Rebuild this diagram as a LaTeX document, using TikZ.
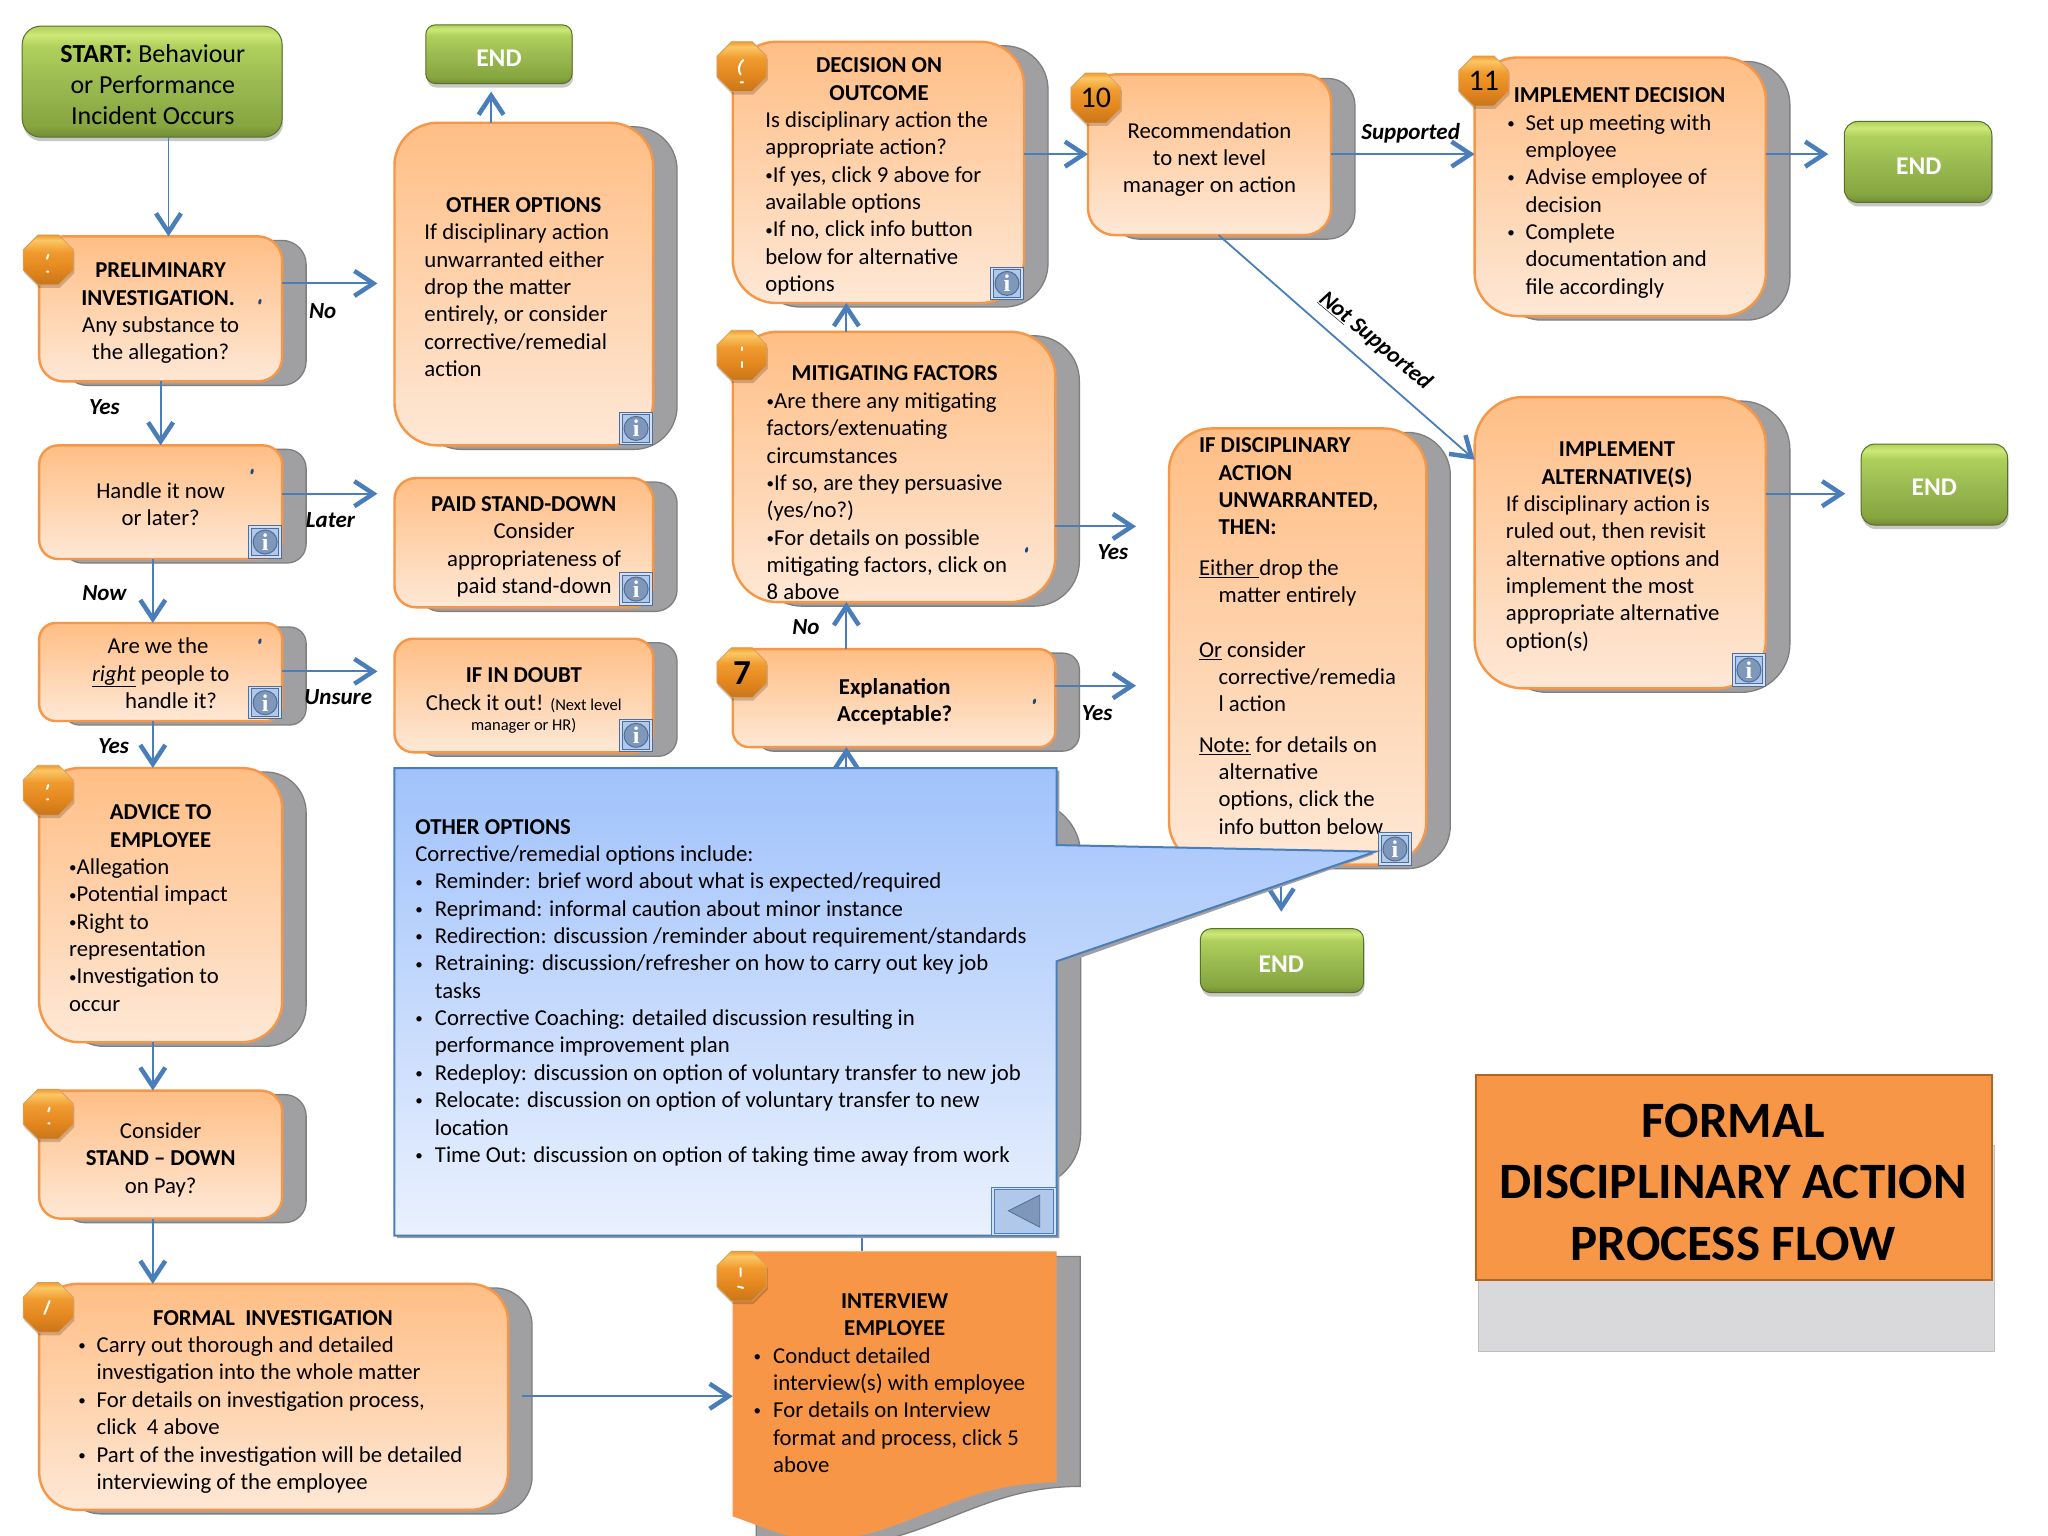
\documentclass[tikz,border=0pt]{standalone}
\usepackage{fontspec}
\setmainfont{Carlito}
\newfontfamily\serifi{Liberation Serif}
\usetikzlibrary{arrows.meta,shapes.geometric,shadows}
\definecolor{flowblue}{HTML}{4A7EBB}
\definecolor{orangeedge}{HTML}{F79646}
\definecolor{orangetop}{HTML}{FFBE85}
\definecolor{orangebot}{HTML}{FEE8D6}
\definecolor{shadowfill}{HTML}{A0A0A2}
\definecolor{shadowline}{HTML}{7F7F7F}
\definecolor{ga}{HTML}{6F8C33}
\definecolor{gb}{HTML}{86A53F}
\definecolor{gc}{HTML}{9BBB52}
\definecolor{gd}{HTML}{B0D05C}
\definecolor{ge}{HTML}{CDE878}
\definecolor{ba}{HTML}{C8751A}
\definecolor{bb}{HTML}{E2861E}
\definecolor{bc}{HTML}{F09A2E}
\definecolor{bd}{HTML}{FBC765}
\definecolor{btnfill}{HTML}{B0C8EA}
\definecolor{btninner}{HTML}{D3E0F2}
\definecolor{btnglyph}{HTML}{7F97B8}
\definecolor{btnline}{HTML}{4F6E9E}
\definecolor{callouttop}{HTML}{A0C2FB}
\definecolor{calloutbot}{HTML}{EAF1FE}
\definecolor{dotblue}{HTML}{1F497D}
\definecolor{titleedge}{HTML}{B5651D}
\definecolor{titleshadow}{HTML}{D9D9DC}
\pgfdeclareverticalshading{greenb}{100bp}{color(0bp)=(ga);color(25bp)=(ga);color(30bp)=(gb);color(50bp)=(gc);color(66bp)=(gd);color(71bp)=(ge);color(75bp)=(gd);color(100bp)=(gd)}
\pgfdeclareverticalshading{badgeb}{100bp}{color(0bp)=(ba);color(25bp)=(ba);color(40bp)=(bb);color(58bp)=(bc);color(70bp)=(bd);color(75bp)=(bc);color(100bp)=(bc)}
\tikzset{
  flow/.style={draw=flowblue,line width=1.9pt,-{Straight Barb[length=19pt,width=25pt,line width=4.5pt]}},
  pbox/.style={draw=orangeedge,line width=2.4pt,top color=orangetop,bottom color=orangebot,
    general shadow={fill=shadowfill,draw=shadowline,line width=1.3pt,shadow xshift=24pt,shadow yshift=-4pt}},
  gbtn/.style={shade,shading=greenb,draw=ga!80!black,line width=1pt,
    general shadow={fill=black,opacity=.22,shadow xshift=1pt,shadow yshift=-4pt}},
  plain/.style={},
  lab/.style={inner sep=0,font=\fontsize{23}{27}\selectfont\bfseries\itshape},
  octo/.style={shape=regular polygon,regular polygon sides=8,minimum size=54pt,inner sep=0,shade,shading=badgeb,draw=ba!70!white,line width=.8pt,
    font=\fontsize{30}{32}\selectfont,general shadow={fill=black,opacity=.18,shadow xshift=1pt,shadow yshift=-3pt}},
  infobtn/.style={rectangle,minimum size=30pt,inner sep=0,fill=btnfill,draw=btnline,line width=1pt,double=btninner,double distance=1.4pt},
  infoi/.style={circle,minimum size=24pt,inner sep=0,fill=btnglyph,draw=btnline,line width=1pt,text=white,font=\serifi\fontsize{24}{24}\selectfont\bfseries},
  frag/.style={draw=white,line width=2pt,line cap=round},
}
\def\SC{1.30612}
% optional style, name, x0, y0, x1, y1, centre height of first line, body
\newcommand{\tbox}[8][plain]{%
  \pgfmathsetmacro{\bw}{(#5-#3)*\SC}%
  \pgfmathsetmacro{\bh}{(#6-#4)*\SC}%
  \pgfmathsetmacro{\bdy}{(#7-#4)*\SC+8.7-18}%
  \pgfmathsetmacro{\brad}{min(\bw,\bh)/6}%
  \gdef\curxo{#3}%
  \node[inner sep=0,outer sep=0,minimum width=\bw pt,minimum height=\bh pt,rounded corners=\brad pt,#1] (#2) at ({(#3+#5)/2},{(#4+#6)/2})
   {\vbox to \bh pt{\hrule height0pt width\bw pt\kern\bdy pt\fontsize{22.75}{27.35}\selectfont #8\vss}};%
}
\newcommand{\bul}{\raisebox{1.8pt}{\fontsize{15}{15}\selectfont •}}
\newcommand{\ctl}[2]{\pgfmathsetmacro{\lx}{(#1-\curxo)*\SC}\hbox to 0pt{\kern\lx pt\rule{0pt}{18pt}\makebox[0pt][c]{#2}\hss}}
\newcommand{\lft}[2]{\pgfmathsetmacro{\lx}{(#1-\curxo)*\SC}\hbox to 0pt{\kern\lx pt\rule{0pt}{18pt}#2\hss}}
\newcommand{\blt}[3]{\pgfmathsetmacro{\lx}{(#1-\curxo)*\SC}\pgfmathsetmacro{\ly}{(#2-#1)*\SC}\hbox to 0pt{\kern\lx pt\rule{0pt}{18pt}\makebox[0pt][l]{\bul}\kern\ly pt #3\hss}}
\newcommand{\gapline}{\kern13pt}
\newcommand{\stoptxt}{\fontsize{25.5}{28}\selectfont\bfseries\color{white}}
\newcommand{\badge}[4]{\node[octo] (#1) at (#2,#3) {#4};}
\newcommand{\info}[3]{\node[infobtn] (#1) at (#2,#3) {};\node[infoi] (#1i) at (#1.center) {i};}
\newcommand{\bluedot}[2]{\fill[dotblue] (#1,#2) ellipse[x radius=1.2,y radius=2.2,rotate=-15];}
\begin{document}
\begin{tikzpicture}[x=1.30612pt,y=-1.30612pt]
\useasboundingbox[fill=white] (0,0) rectangle (1568,1176);

% hidden step behind the callout
\tbox[pbox]{hiddenbox}{561}{610}{809}{906}{700}{}

% interview document shape
\fill[shadowfill,draw=shadowline,line width=1.3pt] (579,962) -- (827,962) -- (827,1138) .. controls (755,1138) and (720,1175) .. (650,1184) -- (579,1184) -- cycle;
\fill[orangeedge] (561,958) -- (809,958) -- (809,1135) .. controls (735,1135) and (700,1172) .. (640,1179) .. controls (610,1182) and (590,1171) .. (561,1161) -- cycle;

\tbox[gbtn]{start}{17}{20}{216}{105}{41}{\fontsize{26}{31}\selectfont
 \ctl{117}{\textbf{START:} Behaviour}\ctl{117}{or Performance}\ctl{117}{Incident Occurs}}
\tbox[gbtn]{endA}{326}{19}{438}{64}{44}{\stoptxt\ctl{382}{END}}
\tbox[gbtn]{endB}{1412}{93}{1525}{155}{127}{\stoptxt\ctl{1469}{END}}
\tbox[gbtn]{endC}{1425}{340}{1537}{402}{373}{\stoptxt\ctl{1481}{END}}
\tbox[gbtn]{endD}{919}{711}{1044}{760}{738}{\stoptxt\ctl{981}{END}}

\tbox[pbox]{prelim}{30}{181}{216}{292}{206}{\ctl{123}{\textbf{PRELIMINARY}}\ctl{121}{\textbf{INVESTIGATION.}}\ctl{123}{Any substance to}\ctl{123}{the allegation?}}
\tbox[pbox]{handle}{30}{341}{216}{428}{375}{\ctl{123}{Handle it now}\ctl{123}{or later?}}
\tbox[pbox]{arewe}{30}{477}{216}{552}{494}{\ctl{121}{Are we the}\ctl{123}{\underline{\textit{right}} people to}\ctl{131}{handle it?}}
\tbox[pbox]{advice}{30}{588}{216}{798}{621}{\ctl{123}{\textbf{ADVICE TO}}\ctl{123}{\textbf{EMPLOYEE}}\lft{53}{\bul Allegation}\lft{53}{\bul Potential impact}\lft{53}{\bul Right to}\lft{53}{representation}\lft{53}{\bul Investigation to}\lft{53}{occur}}
\tbox[pbox]{consider}{30}{835}{216}{933}{865}{\ctl{123}{Consider}\ctl{123}{\textbf{STAND – DOWN}}\ctl{123}{on Pay?}}
\tbox[pbox]{formal}{30}{983}{389}{1156}{1008}{\ctl{209}{\textbf{FORMAL\ \ INVESTIGATION}}\blt{60}{74}{Carry out thorough and detailed}\lft{74}{investigation into the whole matter}\blt{60}{74}{For details on investigation process,}\lft{74}{click\ \ 4 above}\blt{60}{74}{Part of the investigation will be detailed}\lft{74}{interviewing of the employee}}
\tbox[pbox]{otheropt}{302}{94}{500}{341}{156}{\ctl{401}{\textbf{OTHER OPTIONS}}\lft{325}{If disciplinary action}\lft{325}{unwarranted either}\lft{325}{drop the matter}\lft{325}{entirely, or consider}\lft{325}{corrective/remedial}\lft{325}{action}}
\tbox[pbox]{paid}{302}{366}{500}{465}{385}{\ctl{401}{\textbf{PAID STAND-DOWN}}\ctl{409}{Consider}\ctl{409}{appropriateness of}\ctl{409}{paid stand-down}}
\tbox[pbox]{ifdoubt}{302}{489}{500}{576}{516}{\ctl{401}{\textbf{IF IN DOUBT}}\ctl{401}{Check it out! {\fontsize{16.5}{20}\selectfont (Next level}}\kern-6.5pt\ctl{401}{\fontsize{16.5}{20}\selectfont manager or HR)}}
\tbox[pbox]{decision}{561}{32}{784}{232}{49}{\ctl{673}{\textbf{DECISION ON}}\ctl{673}{\textbf{OUTCOME}}\lft{586}{Is disciplinary action the}\lft{586}{appropriate action?}\lft{586}{\bul If yes, click 9 above for}\lft{586}{available options}\lft{586}{\bul If no, click info button}\lft{586}{below for alternative}\lft{586}{options}}
\tbox[pbox]{mitigating}{561}{254}{808}{461}{285}{\ctl{685}{\textbf{MITIGATING FACTORS}}\lft{587}{\bul Are there any mitigating}\lft{587}{factors/extenuating}\lft{587}{circumstances}\lft{587}{\bul If so, are they persuasive}\lft{587}{(yes/no?)}\lft{587}{\bul For details on possible}\lft{587}{mitigating factors, click on}\lft{587}{8 above}}
\tbox[pbox]{explain}{561}{497}{808}{572}{525}{\ctl{685}{\textbf{Explanation}}\ctl{685}{\textbf{Acceptable?}}}
\tbox[pbox]{recommend}{833}{57}{1019}{180}{99}{\ctl{926}{Recommendation}\ctl{926}{to next level}\ctl{926}{manager on action}}
\tbox[pbox]{implement}{1129}{44}{1352}{242}{72}{\lft{1159}{\textbf{IMPLEMENT DECISION}}\blt{1154}{1168}{Set up meeting with}\lft{1168}{employee}\blt{1154}{1168}{Advise employee of}\lft{1168}{decision}\blt{1154}{1168}{Complete}\lft{1168}{documentation and}\lft{1168}{file accordingly}}
\tbox[pbox]{ifdisc}{895}{328}{1092}{662}{340}{\lft{918}{\textbf{IF DISCIPLINARY}}\lft{933}{\textbf{ACTION}}\lft{933}{\textbf{UNWARRANTED,}}\lft{933}{\textbf{THEN:}}\gapline\lft{918}{\underline{Either\ }drop the}\lft{933}{matter entirely}\hbox{}\lft{918}{\underline{Or} consider}\lft{933}{corrective/remedia}\lft{933}{l action}\gapline\lft{918}{\underline{Note:} for details on}\lft{933}{alternative}\lft{933}{options, click the}\lft{933}{info button below}}
\tbox[pbox]{implalt}{1129}{304}{1352}{527}{343}{\ctl{1238}{\textbf{IMPLEMENT}}\ctl{1238}{\textbf{ALTERNATIVE(S)}}\lft{1153}{If disciplinary action is}\lft{1153}{ruled out, then revisit}\lft{1153}{alternative options and}\lft{1153}{implement the most}\lft{1153}{appropriate alternative}\lft{1153}{option(s)}}
\tbox{interview}{561}{958}{809}{1135}{995}{\ctl{685}{\textbf{INTERVIEW}}\ctl{685}{\textbf{EMPLOYEE}}\blt{577}{592}{Conduct detailed}\lft{592}{interview(s) with employee}\blt{577}{592}{For details on Interview}\lft{592}{format and process, click 5}\lft{592}{above}}

% title
\tbox[draw=titleedge,line width=1.6pt,fill=orangeedge,rounded corners=0pt,
  general shadow={fill=titleshadow,draw=black!25,line width=1pt,shadow xshift=3pt,shadow yshift=-71pt}]{title}{1130}{823}{1525}{980}{852.5}{\fontsize{51}{61.2}\selectfont\bfseries
 \ctl{1327}{FORMAL}\ctl{1327}{DISCIPLINARY ACTION}\ctl{1327}{PROCESS FLOW}}

% connectors
\draw[flow] (start.south -| 129,0) -- (prelim.north -| 129,0);
\draw[flow,shorten >=17pt] (prelim.east |- 0,217) -- (otheropt.west |- 0,217);
\draw[flow] (prelim.south -| 123,0) -- (handle.north -| 123,0);
\draw[flow] (handle.south -| 117,0) -- (arewe.north -| 117,0);
\draw[flow,shorten >=17pt] (handle.east |- 0,378) -- (paid.west |- 0,378);
\draw[flow,shorten >=17pt] (arewe.east |- 0,514) -- (ifdoubt.west |- 0,514);
\draw[flow] (arewe.south -| 117,0) -- (advice.north -| 117,0);
\draw[flow] (advice.south -| 117,0) -- (consider.north -| 117,0);
\draw[flow] (consider.south -| 117,0) -- (formal.north -| 117,0);
\draw[flow,shorten <=14.4pt] (formal.east |- 0,1069) -- (interview.west |- 0,1069);
\draw[flow,shorten >=8pt] (otheropt.north -| 376,0) -- (endA.south -| 376,0);
\draw[draw=flowblue,line width=1.9pt] (interview.north -| 660,0) -- (hiddenbox.south -| 660,0);
\draw[flow] (hiddenbox.north -| 648,0) -- (explain.south -| 648,0);
\draw[flow] (explain.north -| 648,0) -- (mitigating.south -| 648,0);
\draw[flow] (mitigating.north -| 648,0) -- (decision.south -| 648,0);
\draw[flow] (decision.east |- 0,118) -- (recommend.west |- 0,118);
\draw[flow] (recommend.east |- 0,118) -- (implement.west |- 0,118);
\draw[flow,line width=1.8pt] (recommend.south -| 933,0) -- (implalt.west |- 0,352);
\draw[flow,shorten >=16pt] (implement.east |- 0,118) -- (endB.west |- 0,118);
\draw[flow,shorten >=16pt] (implalt.east |- 0,378) -- (endC.west |- 0,378);
\draw[flow,shorten >=33pt] (mitigating.east |- 0,403) -- (ifdisc.west |- 0,403);
\draw[flow,shorten >=33pt] (explain.east |- 0,525) -- (ifdisc.west |- 0,525);
\draw[flow,shorten >=17pt] (ifdisc.south -| 981,0) -- (endD.north -| 981,0);

% connector labels
\node[lab] (lNo) at (247,238) {No};
\node[lab] (lYes) at (80,312) {Yes};
\node[lab] (lLater) at (253,398) {Later};
\node[lab] (lNow) at (80,454) {Now};
\node[lab] (lUnsure) at (259,534) {Unsure};
\node[lab] (lYesB) at (87,571) {Yes};
\node[lab] (lNoB) at (617,480) {No};
\node[lab] (lYesC) at (852,423) {Yes};
\node[lab] (lYesD) at (840,546) {Yes};
\node[lab] (lSup) at (1080,102) {Supported};
\node[lab,rotate=-40] (lNot) at (1053,261) {\underline{Not} Supported};

% small marks
\bluedot{199}{231}\bluedot{193}{361}\bluedot{199}{491}\bluedot{786}{421}\bluedot{792}{537}

% number badges
\badge{bPrelim}{37}{199}{}
\badge{bAdvice}{37}{605}{}
\badge{bConsider}{37}{853}{}
\badge{bFormal}{37}{1001}{}
\badge{bDecision}{568}{51}{}
\badge{bMitigating}{568}{272}{}
\badge{bExplain}{568}{515}{\fontsize{35}{35}\selectfont\textbf{7}}
\badge{bRecommend}{839}{75}{\raisebox{-9pt}{10}}
\badge{bImplement}{1136}{62}{\raisebox{-9pt}{11}}
\badge{bInterview}{568}{977}{}
\draw[frag] (37,195) -- (36,198) (36,208) -- (37,208);
\draw[frag] (37,601) -- (36,604) (36,612) -- (37,612);
\draw[frag] (38,848) -- (37,851) (37,860) -- (38,860);
\draw[frag] (38,996) -- (34,1006);
\draw[frag] (569,46) .. controls (565,50) and (565,54) .. (567,57) (567,63) -- (569,63);
\draw[frag] (568,266) -- (568,268) (568,277) -- (568,281);
\draw[frag] (567,971) -- (567,977) (565,985) -- (569,986);

% info buttons
\info{iOther}{487}{328}
\info{iHandle}{203}{415}
\info{iArewe}{203}{538}
\info{iPaid}{487}{451}
\info{iDoubt}{487}{563}
\info{iDecision}{771}{217}
\info{iAlt}{1339}{513}
\info{iDisc}{1068}{650}

% callout
\fill[shadowfill] (304,590) -- (811,590) -- (811,650) -- (1052,654) -- (811,739) -- (811,948) -- (304,948) -- cycle;
\path[top color=callouttop,bottom color=calloutbot,draw=flowblue,line width=2pt]
  (302,588) -- (809,588) -- (809,647) -- (1053,652) -- (809,736) -- (809,946) -- (302,946) -- cycle;
\tbox{calloutbody}{302}{588}{809}{946}{632}{\lft{318}{\textbf{OTHER OPTIONS}}\lft{318}{Corrective/remedial options include:}%
\blt{318}{333}{Reminder: brief word about what is expected/required}%
\blt{318}{333}{Reprimand: informal caution about minor instance}%
\blt{318}{333}{Redirection: discussion /reminder about requirement/standards}%
\blt{318}{333}{Retraining: discussion/refresher on how to carry out key job}%
\lft{333}{tasks}%
\blt{318}{333}{Corrective Coaching: detailed discussion resulting in}%
\lft{333}{performance improvement plan}%
\blt{318}{333}{Redeploy: discussion on option of voluntary transfer to new job}%
\blt{318}{333}{Relocate: discussion on option of voluntary transfer to new}%
\lft{333}{location}%
\blt{318}{333}{Time Out: discussion on option of taking time away from work}}
\node[rectangle,inner sep=0,minimum width=62pt,minimum height=46pt,fill=btnfill,draw=flowblue,line width=1pt,double=btninner,double distance=1.4pt] (backbtn) at (784,927.5) {};
\fill[btnglyph,draw=btnline,line width=.8pt] (772,927) -- (796,915) -- (796,939.5) -- cycle;
\end{tikzpicture}
\end{document}
